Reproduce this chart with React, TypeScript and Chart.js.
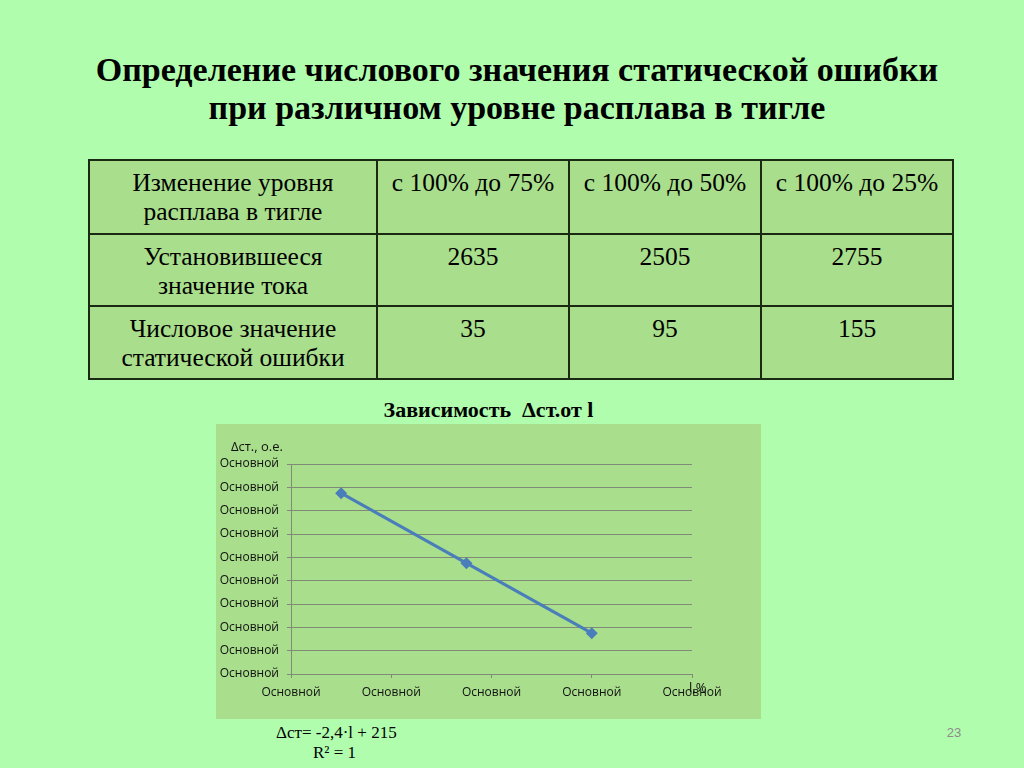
import React, { useEffect, useRef } from "react";
import { Chart, registerables } from "chart.js";

Chart.register(...registerables);

// ---- data ----
const titleLines = [
  "Определение числового значения статической ошибки",
  "при различном уровне расплава в тигле",
];
const rowHeaders = [
  "Изменение уровня расплава в тигле",
  "Установившееся значение тока",
  "Числовое значение статической ошибки",
];
const levelChanges = ["с 100% до 75%", "с 100% до 50%", "с 100% до 25%"];
const steadyCurrent = [2635, 2505, 2755];
const staticErrorTable = [35, 95, 155];

const chartTitle = "Зависимость  Δст.от l";
const lPercent = [25, 50, 75];
const staticError = [155, 95, 35];
const tickLabel = "Основной";
const yAxisTitle = "Δст., о.е.";
const xAxisTitle = "l,%";
const equation = "Δст= -2,4·l + 215";
const rSquared = "R² = 1";
const pageNumber = "23";

const SLIDE_BG = "#b0fdae";
const PANEL_BG = "#a8de8c";
const LINE_COLOR = "#4a7ebb";
const GRID_COLOR = "#7f8a78";

const tickFont = { family: "'Open Sans', 'DejaVu Sans', sans-serif", size: 12 };

function ChartBox() {
  const ref = useRef<HTMLCanvasElement | null>(null);
  useEffect(() => {
    if (!ref.current) return;
    const axisTitles = {
      id: "axisTitles",
      afterDraw(chart: any) {
        const ctx = chart.ctx;
        const area = chart.chartArea;
        ctx.save();
        ctx.fillStyle = "#111";
        ctx.font = "13px 'Open Sans', 'DejaVu Sans', sans-serif";
        ctx.textBaseline = "middle";
        ctx.textAlign = "left";
        ctx.fillText(yAxisTitle, 15, area.top - 17);
        ctx.fillText(xAxisTitle, area.right - 3, area.bottom + 14);
        ctx.restore();
      },
    };
    const chart = new Chart(ref.current, {
      type: "line",
      data: {
        datasets: [
          {
            data: lPercent.map((x, i) => ({ x, y: staticError[i] })),
            borderColor: LINE_COLOR,
            backgroundColor: LINE_COLOR,
            borderWidth: 3,
            pointStyle: "rectRot",
            pointRadius: 6,
            pointBorderWidth: 0,
            tension: 0,
          },
        ],
      },
      options: {
        animation: false,
        responsive: false,
        maintainAspectRatio: false,
        layout: { padding: { top: 40, right: 69, left: 0, bottom: 0 } },
        plugins: { legend: { display: false }, tooltip: { enabled: false }, title: { display: false } },
        scales: {
          x: {
            type: "linear",
            min: 15,
            max: 95,
            ticks: {
              stepSize: 20,
              callback: () => tickLabel,
              font: tickFont,
              color: "#111",
              padding: 7,
              maxRotation: 0,
              autoSkip: false,
            },
            grid: { drawOnChartArea: false, drawTicks: true, tickLength: 4, color: GRID_COLOR },
            border: { color: GRID_COLOR, width: 1 },
            afterFit: (s: any) => {
              s.height = 45;
            },
          },
          y: {
            min: 0,
            max: 180,
            ticks: {
              stepSize: 20,
              callback: () => tickLabel,
              font: tickFont,
              color: "#111",
              padding: 8,
              autoSkip: false,
            },
            grid: { color: GRID_COLOR, tickLength: 4, lineWidth: 1 },
            border: { color: GRID_COLOR, width: 1 },
            afterFit: (s: any) => {
              s.width = 75;
            },
          },
        },
      },
      plugins: [axisTitles],
    } as any);
    return () => chart.destroy();
  }, []);
  return <canvas ref={ref} width={545} height={295} style={{ display: "block" }} />;
}

const serif = "'Liberation Serif', 'Times New Roman', serif";

export default function App() {
  const rows: (string | number)[][] = [
    [rowHeaders[0], ...levelChanges],
    [rowHeaders[1], ...steadyCurrent],
    [rowHeaders[2], ...staticErrorTable],
  ];
  const colW = [288, 192, 192, 192];
  const rowH = [74, 72, 73];
  return (
    <div
      style={{
        position: "fixed",
        left: 0,
        top: 0,
        width: 1024,
        height: 768,
        background: SLIDE_BG,
        overflow: "hidden",
        fontFamily: serif,
        color: "#000",
      }}
    >
      <div
        style={{
          position: "absolute",
          left: 0,
          top: 51,
          width: 1034,
          textAlign: "center",
          fontWeight: "bold",
          fontSize: 34,
          lineHeight: "38px",
        }}
      >
        {titleLines.map((t, i) => (
          <div key={i}>{t}</div>
        ))}
      </div>

      <table
        style={{
          position: "absolute",
          left: 88,
          top: 159,
          borderCollapse: "collapse",
          background: PANEL_BG,
          fontSize: 25.5,
          lineHeight: "29px",
          tableLayout: "fixed",
        }}
      >
        <tbody>
          {rows.map((r, ri) => (
            <tr key={ri} style={{ height: rowH[ri] }}>
              {r.map((c, ci) => (
                <td
                  key={ci}
                  style={{
                    width: colW[ci],
                    border: "2px solid #1a2a12",
                    textAlign: "center",
                    verticalAlign: "top",
                    padding: "7px 2px 0 2px",
                    boxSizing: "border-box",
                  }}
                >
                  {ci === 0 ? <div style={{ padding: "0 14px" }}>{c}</div> : c}
                </td>
              ))}
            </tr>
          ))}
        </tbody>
      </table>

      <div
        style={{
          position: "absolute",
          left: 216,
          top: 398,
          width: 545,
          textAlign: "center",
          fontWeight: "bold",
          fontSize: 22,
          lineHeight: "24px",
          whiteSpace: "pre",
        }}
      >
        {chartTitle}
      </div>

      <div style={{ position: "absolute", left: 216, top: 424, width: 545, height: 295, background: PANEL_BG }}>
        <ChartBox />
      </div>

      <div style={{ position: "absolute", left: 276, top: 723, fontSize: 17, lineHeight: "20px" }}>{equation}</div>
      <div style={{ position: "absolute", left: 313, top: 743, fontSize: 17, lineHeight: "20px" }}>{rSquared}</div>

      <div
        style={{
          position: "absolute",
          left: 940,
          top: 725,
          width: 28,
          textAlign: "center",
          fontFamily: "'Liberation Sans', Arial, sans-serif",
          fontSize: 13,
          color: "#8c8c8c",
        }}
      >
        {pageNumber}
      </div>
    </div>
  );
}
